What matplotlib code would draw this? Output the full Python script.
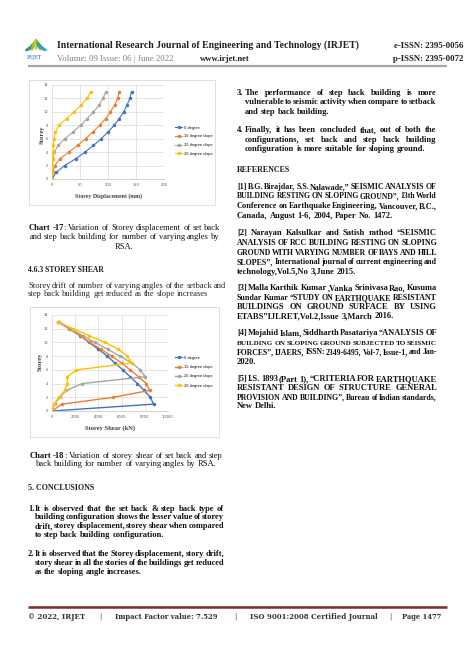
import numpy as np
import matplotlib
matplotlib.use('Agg')
import matplotlib.pyplot as plt
from matplotlib.patches import Ellipse, Rectangle

W, H = 474, 670
SERIF = ['DejaVu Serif']
BODYFONT = ['Liberation Serif', 'DejaVu Serif']
SANS = ['DejaVu Sans']
BODY = 6.1

# ---- chart data ----
storeys = list(range(14))
series_names = ['0 degree', '10 degree slope', '20 degree slope', '30 degree slope']
series_colors = ['#4472C4', '#ED7D31', '#A5A5A5', '#FFC000']

# Chart 17: storey displacement (mm)
disp_0 = [0, 7.7, 22.6, 42, 59, 74, 88, 100, 111, 120, 128, 134, 139, 142]
disp_10 = [0, 2, 5, 14, 30, 46, 60, 73, 85, 96, 104, 112, 117, 120]
disp_20 = [0, 0.3, 1, 2, 4, 11, 22.6, 37.5, 51, 63, 74, 84, 91, 96]
disp_30 = [0, 0.3, 0.6, 1, 2, 2.4, 3.5, 6, 12, 26, 39, 52, 63, 69]

# Chart 18: storey shear (kN)
shear_0 = [0, 8760, 8470, 7950, 7370, 6730, 6100, 5430, 4770, 3990, 3210, 2400, 1530, 520]
shear_10 = [0, 870, 5290, 8410, 8120, 7460, 6730, 6010, 5140, 4220, 3270, 2400, 1470, 520]
shear_20 = [0, 230, 660, 1240, 2600, 8030, 7600, 6880, 5870, 4800, 3700, 2630, 1590, 580]
shear_30 = [0, 170, 610, 1100, 1300, 1330, 2110, 6880, 6500, 5720, 4570, 3180, 1820, 520]

disp_ticks = [0, 50, 100, 150, 200]
shear_ticks = [0, 2000, 4000, 6000, 8000, 10000]
storey_ticks = [0, 2, 4, 6, 8, 10, 12, 14]

fig = plt.figure(figsize=(W / 100, H / 100), dpi=100)
ov = fig.add_axes([0, 0, 1, 1])
ov.set_xlim(0, W)
ov.set_ylim(H, 0)
ov.axis('off')
rend = fig.canvas.get_renderer()


def wt(b):
    return 'bold' if b else 'normal'


def width_of(s, size, bold, fam=BODYFONT):
    t = ov.text(0, 0, s, fontsize=size, fontweight=wt(bold), family=fam)
    w = t.get_window_extent(rend).width
    t.remove()
    return w


def words_of(runs):
    words = [[]]
    for txt, b in runs:
        parts = txt.split(' ')
        for i, p in enumerate(parts):
            if i > 0:
                words.append([])
            if p:
                words[-1].append((p, b))
    return [w for w in words if w]


def put_line(runs, y, x0, x1, align='left', color='#111111', size=BODY):
    bold = any(b for _, b in runs)
    words = words_of(runs)
    n = len(words)
    sp = width_of('n n', size, bold) - width_of('nn', size, bold)
    total = sum(width_of(p, size, b) for w in words for p, b in w)
    if align == 'justify' and n > 1:
        need = total + (n - 1) * sp * 0.5
        if need > x1 - x0:
            f = (x1 - x0) / need
            size *= f
            sp *= f
    items = []
    for w in words:
        items.append([ov.text(0, y, txt, fontsize=size, fontweight=wt(b),
                              family=BODYFONT, color=color, va='baseline')
                      for txt, b in w])
    ws = [[t.get_window_extent(rend).width for t in ps] for ps in items]
    total = sum(sum(w) for w in ws)
    if align == 'justify' and n > 1:
        gap = (x1 - x0 - total) / (n - 1)
        x = x0
    elif align == 'center':
        gap = sp
        x = (x0 + x1) / 2 - (total + gap * (n - 1)) / 2
    else:
        gap = sp
        x = x0
    for ps, w in zip(items, ws):
        for t, wi in zip(ps, w):
            t.set_x(x)
            x += wi
        x += gap


def para(lines, ys, x0, x1, bold=True, color='#111111'):
    for i, (ln, y) in enumerate(zip(lines, ys)):
        last = i == len(lines) - 1
        put_line([(ln, bold)], y + 2.5, x0, x1, 'left' if last else 'justify', color)


def num(s, x, y):
    put_line([(s, True)], y + 2.5, x, x + 10, 'left')


def fit_text(s, x0, x1, y, bold=True, color='#1e1e1e', base=6.0, ha='left', fam=SERIF, **kw):
    t = ov.text(x0 if ha == 'left' else (x0 + x1) / 2, y, s, fontsize=base,
                fontweight=wt(bold), family=fam, color=color, va='baseline', ha=ha, **kw)
    w = t.get_window_extent(rend).width
    t.set_fontsize(base * (x1 - x0) / w)
    return t


# ---- header ----
leaf_cols = ['#2a7fc1', '#3fa34d', '#8cc63f', '#f3c431', '#8cc63f', '#3fa34d', '#2aa5c8']
for ang, c in zip(np.linspace(-62, 62, 7), leaf_cols):
    r = np.radians(ang)
    cx, cy = 36 + 6.5 * np.sin(r), 51 - 6.5 * np.cos(r)
    ov.add_patch(Ellipse((cx, cy), 3.2, 12, angle=-ang, color=c, lw=0))
ov.text(34.5, 59.5, 'IRJET', fontsize=3.8, family=SERIF, color='#2e75b6',
        ha='center', va='baseline')

title = fit_text('International Research Journal of Engineering and Technology (IRJET)',
                 57, 361, 47.5, fam=BODYFONT)
tsize = title.get_fontsize()
for s, yy in [('e-ISSN: 2395-0056', 47.5), ('p-ISSN: 2395-0072', 61)]:
    ov.text(463, yy, s, fontsize=tsize * 0.9, fontweight='bold', family=BODYFONT,
            color='#1e1e1e', ha='right', va='baseline')
fit_text('Volume: 09 Issue: 06 | June 2022', 57, 175, 61, bold=False, color='#7f7f7f',
         fam=BODYFONT)
fit_text('www.irjet.net', 200, 250, 61, fam=BODYFONT)
ov.plot([28, 447], [65.5, 65.5], color='#a6a6a6', lw=1.6, solid_capstyle='butt')

# ---- chart frames ----
ov.add_patch(Rectangle((29, 80), 186, 125, fill=False, ec='#d9d9d9', lw=0.6))
ov.add_patch(Rectangle((30, 307), 189, 130, fill=False, ec='#d9d9d9', lw=0.6))


def style_chart(ax, xticks, xmax):
    ax.set_facecolor('none')
    ax.set_xlim(0, xmax)
    ax.set_ylim(0, 14)
    ax.set_xticks(xticks)
    ax.set_yticks(storey_ticks)
    ax.grid(True, color='#d9d9d9', lw=0.5)
    ax.set_axisbelow(True)
    for s in ['top', 'right', 'left']:
        ax.spines[s].set_visible(False)
    ax.spines['bottom'].set_color('#bfbfbf')
    ax.spines['bottom'].set_linewidth(0.5)
    ax.tick_params(length=0, labelsize=2.6, labelcolor='#595959', pad=3)
    for lab in ax.get_xticklabels() + ax.get_yticklabels():
        lab.set_family(SANS)


ax1 = fig.add_axes([52 / W, 1 - 179 / H, 112 / W, 94 / H])
for vals, name, c in zip([disp_0, disp_10, disp_20, disp_30], series_names, series_colors):
    ax1.plot(vals, storeys, color=c, lw=0.8, marker='o', ms=1.5, label=name)
style_chart(ax1, disp_ticks, 200)
ax1.legend(loc='upper left', bbox_to_anchor=(175.5, 125.5), bbox_transform=ov.transData,
           frameon=False, borderpad=0, borderaxespad=0, handlelength=2.0,
           handletextpad=0.5, labelspacing=1.35, prop={'family': SANS, 'size': 2.5})

ax2 = fig.add_axes([52 / W, 1 - 411 / H, 116 / W, 96 / H])
for vals, name, c in zip([shear_0, shear_10, shear_20, shear_30], series_names, series_colors):
    ax2.plot(vals, storeys, color=c, lw=1.0, marker='o', ms=1.5, label=name)
style_chart(ax2, shear_ticks, 10000)
ax2.legend(loc='upper left', bbox_to_anchor=(175.5, 355.5), bbox_transform=ov.transData,
           frameon=False, borderpad=0, borderaxespad=0, handlelength=2.0,
           handletextpad=0.5, labelspacing=1.55, prop={'family': SANS, 'size': 2.5})

ov.text(42.5, 135, 'Storey', rotation=90, fontsize=4.8, fontweight='bold', family=BODYFONT,
        color='#404040', ha='center', va='center')
fit_text('Storey Displacement (mm)', 75, 142, 197.5, color='#404040', ha='center', fam=BODYFONT)
ov.text(40.5, 362, 'Storey', rotation=90, fontsize=4.8, fontweight='bold', family=BODYFONT,
        color='#404040', ha='center', va='center')
fit_text('Storey Shear (kN)', 85, 135, 430, color='#404040', ha='center', fam=BODYFONT)

# ---- left column ----
put_line([('Chart -17', True), (': Variation of Storey displacement of set back', False)],
         229.5, 29, 220, 'center')
put_line([('and step back building for number of varying angles by', False)], 239, 29, 220, 'center')
put_line([('RSA.', False)], 249, 29, 220, 'center')

fit_text('4.6.3 STOREY SHEAR', 28, 105, 271.5, fam=BODYFONT)
para(['Storey drift of number of varying angles of the setback and',
      'step back building get reduced as the slope increases'],
     [285, 294], 28, 226, bold=False, color='#262626')

put_line([('Chart -18', True), (': Variation of storey shear of set back and step', False)],
         457.5, 28, 224, 'center')
put_line([('back building for number of varying angles by RSA.', False)], 466.5, 28, 224, 'center')

fit_text('5. CONCLUSIONS', 28, 95, 490.5, fam=BODYFONT)
num('1.', 28, 508.3)
para(['It is observed that the set back & step back type of',
      'building configuration shows the lesser value of storey',
      'drift, storey displacement, storey shear when compared',
      'to step back building configuration.'],
     [508.3, 516.9, 525.6, 534.3], 34.5, 224)
num('2.', 28, 553.3)
para(['It is observed that the Storey displacement, story drift,',
      'story shear in all the stories of the buildings get reduced',
      'as the sloping angle increases.'],
     [553.3, 562.2, 571], 34.5, 224)

# ---- right column ----
num('3.', 237, 92.3)
para(['The performance of step back building is more',
      'vulnerable to seismic activity when compare to setback',
      'and step back building.'],
     [92.3, 101.7, 111], 245, 436)
num('4.', 237, 130)
para(['Finally, it has been concluded that, out of both the',
      'configurations, set back and step back building',
      'configuration is more suitable for sloping ground.'],
     [130, 139.3, 148.3], 245, 436)

fit_text('REFERENCES', 237, 291, 171.5, fam=BODYFONT)
refs = [
    (['[1] B.G. Birajdar, S.S. Nalawade,\u201d SEISMIC ANALYSIS OF',
      'BUILDING RESTING ON SLOPING GROUND\u201d, 13th World',
      'Conference on Earthquake Engineering, Vancouver, B.C.,',
      'Canada, August 1-6, 2004, Paper No. 1472.'],
     [186.7, 196, 205.7, 215]),
    (['[2] Narayan Kalsulkar and Satish rathod \u201cSEISMIC',
      'ANALYSIS OF RCC BUILDING RESTING ON SLOPING',
      'GROUND WITH VARYING NUMBER OF BAYS AND HILL',
      'SLOPES\u201d, International journal of current engineering and',
      'technology,Vol.5,No 3,June 2015.'],
     [232.7, 242.3, 252.3, 261.7, 271]),
    (['[3] Malla Karthik Kumar ,Vanka Srinivasa Rao, Kusuma',
      'Sundar Kumar \u201cSTUDY ON EARTHQUAKE RESISTANT',
      'BUILDINGS ON GROUND SURFACE BY USING',
      'ETABS\u201dIJLRET,Vol.2,Issue 3,March 2016.'],
     [287.7, 297.3, 306.7, 316]),
    (['[4] Mojahid Islam, Siddharth Pasatariya \u201cANALYSIS OF',
      'BUILDING ON SLOPING GROUND SUBJECTED TO SEISMIC',
      'FORCES\u201d, IJAERS, ISSN: 2349-6495, Vol-7, Issue-1, and Jan-',
      '2020.'],
     [332.7, 342.3, 351.7, 361]),
    (['[5] I.S. 1893 (Part 1), \u201cCRITERIA FOR EARTHQUAKE',
      'RESISTANT DESIGN OF STRUCTURE GENERAL',
      'PROVISION AND BUILDING\u201d, Bureau of Indian standards,',
      'New Delhi.'],
     [378.3, 387.7, 397, 406]),
]
for lines, ys in refs:
    para(lines, ys, 237, 437)

# ---- footer ----
ov.plot([28, 447], [607, 607], color='#7b2c2c', lw=1.8, solid_capstyle='butt')
fcol = '#333333'
fit_text('\u00a9 2022, IRJET', 28, 85, 619, color=fcol)
fit_text('Impact Factor value: 7.529', 115, 220, 619, color=fcol)
fit_text('ISO 9001:2008 Certified Journal', 250, 377, 619, color=fcol)
fit_text('Page 1477', 402, 442, 619, color=fcol)
for xb in [100, 235, 390]:
    ov.text(xb, 619, '|', fontsize=5, family=SERIF, color=fcol,
            ha='center', va='baseline')

fig.savefig('out.png', dpi=100)
